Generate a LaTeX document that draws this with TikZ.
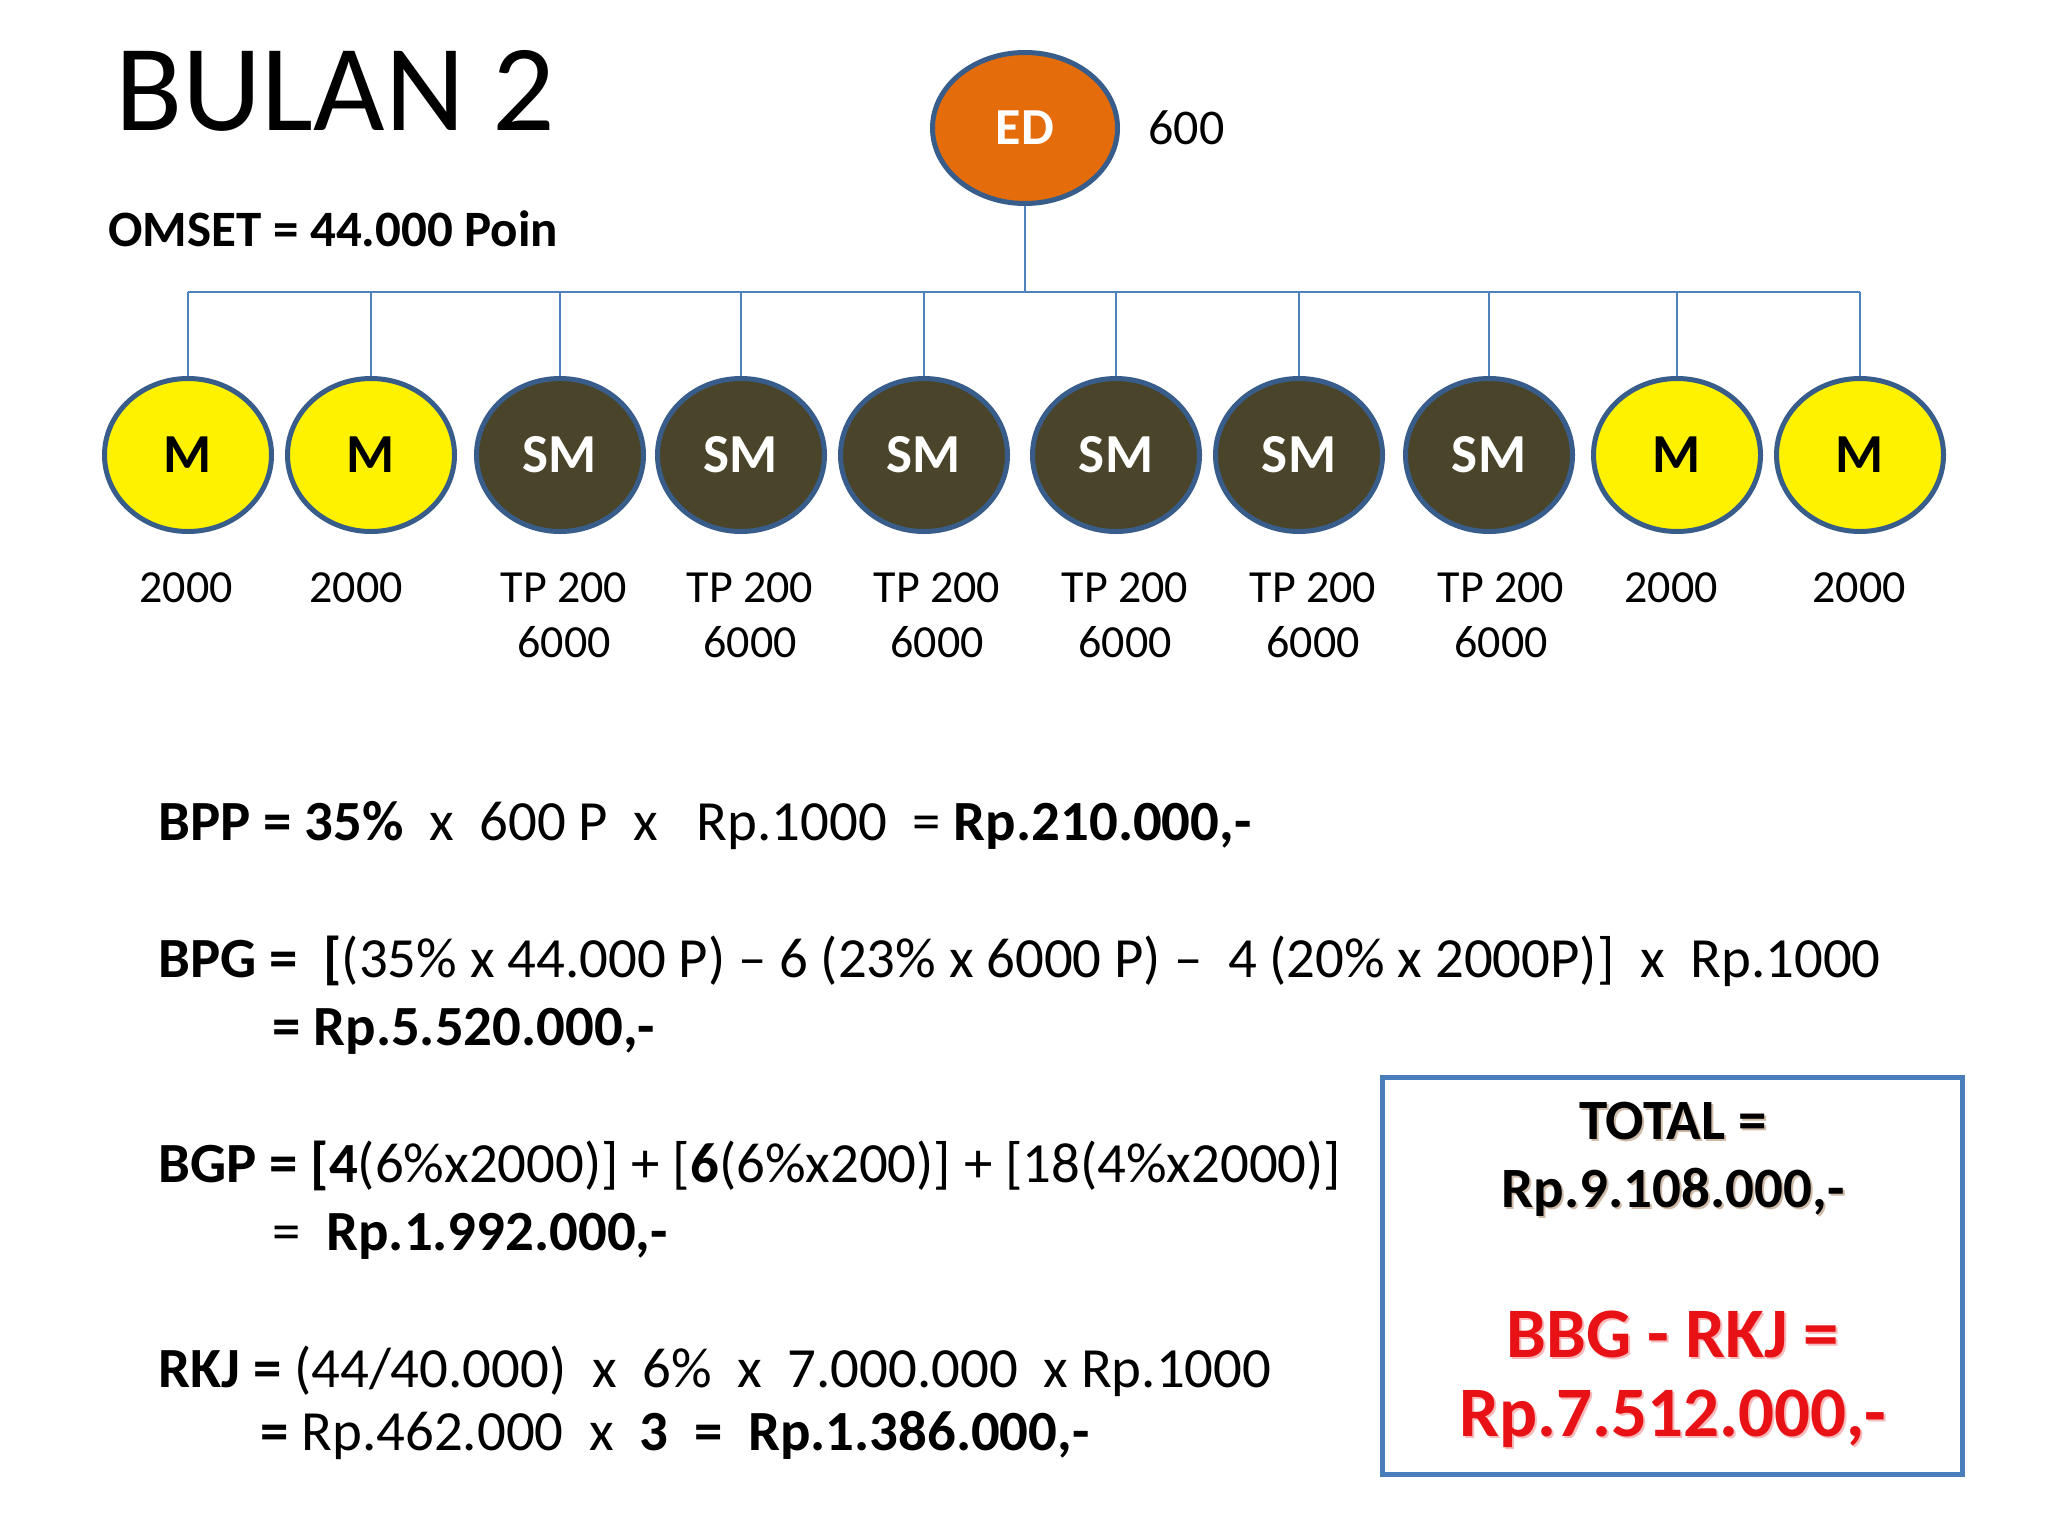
\documentclass[tikz,border=0pt]{standalone}
\usepackage{fontspec}
\setmainfont{Carlito}
\usetikzlibrary{shapes.geometric}
\definecolor{edorange}{RGB}{228,108,10}
\definecolor{smolive}{RGB}{74,69,42}
\definecolor{mborder}{RGB}{56,93,138}
\definecolor{treeblue}{RGB}{79,129,189}
\definecolor{boxblue}{RGB}{74,126,187}
\definecolor{redtxt}{RGB}{232,18,22}
\definecolor{glowbrown}{RGB}{150,105,60}
\definecolor{glowred}{RGB}{240,120,120}
\newcommand{\myfs}[1]{\fontsize{#1}{#1}\selectfont}
\begin{document}
\begin{tikzpicture}[x=0.5pt,y=-0.5pt,
  member/.style={ellipse, draw=mborder, line width=2.5pt, minimum width=83.5pt,
    minimum height=76.5pt, inner sep=0pt, font=\bfseries\myfs{27.5}},
  mnode/.style={member, fill=yellow, text=black},
  smnode/.style={member, fill=smolive, text=white},
  lbl/.style={anchor=base, font=\myfs{23}, inner sep=0pt},
  formula/.style={anchor=base west, font=\myfs{28.4}, inner sep=0pt},
  boxtxt/.style={anchor=base, inner sep=0pt},
  tree/.style={draw=treeblue, line width=1pt}]
\useasboundingbox[fill=white] (0,0) rectangle (2048,1536);

% title
\node[anchor=base west, font=\myfs{61.7}, inner sep=0pt] (title) at (115,131) {BULAN 2};
\node[anchor=base west, font=\bfseries\myfs{25.5}, inner sep=0pt] (omset) at (108,246) {OMSET = 44.000 Poin};

% top node
\node[member, fill=edorange, text=white, minimum width=92.5pt, minimum height=75.5pt,
  font=\bfseries\myfs{26}] (ed) at (1025,128) {ED};
\node[anchor=base west, font=\myfs{25}, inner sep=0pt] (edval) at (1148,144) {600};

% children
\node[mnode]  (c1)  at (188,455)  {M};
\node[mnode]  (c2)  at (371,455)  {M};
\node[smnode] (c3)  at (560,455)  {SM};
\node[smnode] (c4)  at (741,455)  {SM};
\node[smnode] (c5)  at (924,455)  {SM};
\node[smnode] (c6)  at (1116,455) {SM};
\node[smnode] (c7)  at (1299,455) {SM};
\node[smnode] (c8)  at (1489,455) {SM};
\node[mnode]  (c9)  at (1677,455) {M};
\node[mnode]  (c10) at (1860,455) {M};

% tree connectors
\coordinate (bar) at (0,292);
\draw[tree] (ed.south) -- (ed.south |- bar);
\draw[tree] (c1.north |- bar) -- (c10.north |- bar);
\foreach \i in {1,...,10} {\draw[tree] (c\i.north |- bar) -- (c\i.north);}

% child labels
\node[lbl] (l1)  at (186,602)  {2000};
\node[lbl] (l2)  at (356,602)  {2000};
\node[lbl] (l3a) at (564,602)  {TP 200};
\node[lbl] (l3b) at (564,657)  {6000};
\node[lbl] (l4a) at (750,602)  {TP 200};
\node[lbl] (l4b) at (750,657)  {6000};
\node[lbl] (l5a) at (937,602)  {TP 200};
\node[lbl] (l5b) at (937,657)  {6000};
\node[lbl] (l6a) at (1125,602) {TP 200};
\node[lbl] (l6b) at (1125,657) {6000};
\node[lbl] (l7a) at (1313,602) {TP 200};
\node[lbl] (l7b) at (1313,657) {6000};
\node[lbl] (l8a) at (1501,602) {TP 200};
\node[lbl] (l8b) at (1501,657) {6000};
\node[lbl] (l9)  at (1671,602) {2000};
\node[lbl] (l10) at (1859,602) {2000};

% formulas
\node[formula] (bpp) at (158,840) {\textbf{BPP = 35\%}~~x~~600 P~~x~~~Rp.1000~~= \textbf{Rp.210.000,-}};
\node[formula] (bpg1) at (158,977) {\textbf{BPG =}~~\textbf{[}(35\% x 44.000 P) \textendash{} 6 (23\% x 6000 P) \textendash{}~~4 (20\% x 2000P)]~~x~~Rp.1000};
\node[formula] (bpg2) at (272,1045) {\textbf{= Rp.5.520.000,-}};
\node[formula] (bgp1) at (158,1182) {\textbf{BGP = [4}(6\%x2000)] + [\textbf{6}(6\%x200)] + [18(4\%x2000)]};
\node[formula] (bgp2) at (272,1250) {=~~\textbf{Rp.1.992.000,-}};
\node[formula] (rkj1) at (158,1387) {\textbf{RKJ =} (44/40.000)~~x~~6\%~~x~~7.000.000~~x Rp.1000};
\node[formula] (rkj2) at (260,1450) {\textbf{=} Rp.462.000~~x~~\textbf{3}~~\textbf{=}~~\textbf{Rp.1.386.000,-}};

% total box
\node[draw=boxblue, line width=2.5pt, minimum width=290pt, minimum height=198.5pt,
  inner sep=0pt] (box) at (1672.5,1276) {};
\node[boxtxt, font=\bfseries\myfs{28.5}, text=glowbrown, opacity=0.45] (t1s) at (1675,1141) {TOTAL =};
\node[boxtxt, font=\bfseries\myfs{28.5}] (t1) at (1673,1139) {TOTAL =};
\node[boxtxt, font=\bfseries\myfs{28.5}, text=glowbrown, opacity=0.45] (t2s) at (1675,1209) {Rp.9.108.000,-};
\node[boxtxt, font=\bfseries\myfs{28.5}] (t2) at (1673,1207) {Rp.9.108.000,-};
\node[boxtxt, font=\bfseries\myfs{35.5}, text=glowred, opacity=0.5] (t3s) at (1675,1359) {BBG - RKJ =};
\node[boxtxt, font=\bfseries\myfs{35.5}, text=redtxt] (t3) at (1673,1357) {BBG - RKJ =};
\node[boxtxt, font=\bfseries\myfs{35.5}, text=glowred, opacity=0.5] (t4s) at (1675,1438) {Rp.7.512.000,-};
\node[boxtxt, font=\bfseries\myfs{35.5}, text=redtxt] (t4) at (1673,1436) {Rp.7.512.000,-};
\end{tikzpicture}
\end{document}
